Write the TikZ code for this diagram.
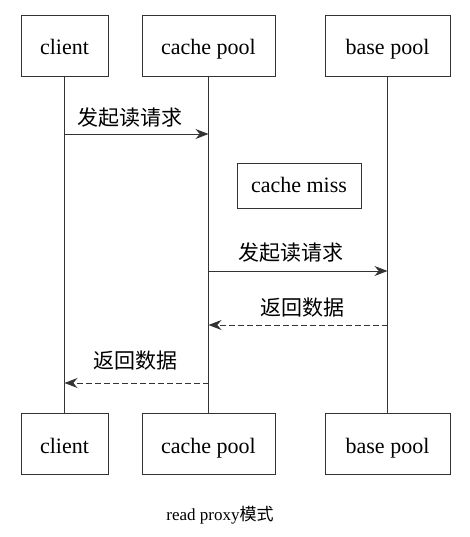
\documentclass[tikz,border=0pt]{standalone}
\usepackage{fontspec}
\setmainfont{Liberation Serif}
\newfontfamily\cjk{Noto Sans CJK SC}
\usetikzlibrary{arrows.meta}

\begin{document}
\begin{tikzpicture}[x=1pt,y=-1pt,
  >={Stealth[length=13pt,width=10pt]},
  ligne/.style={line width=0.9pt, draw=black!80},
  boite/.style={ligne, inner sep=0pt, minimum height=61pt,
    text height=21pt, text depth=2pt,
    font=\fontsize{22}{26}\selectfont},
  texte/.style={inner sep=0pt, font=\fontsize{21}{25}\selectfont\cjk},
  retour/.style={dash pattern=on 6pt off 3pt}]

\useasboundingbox (0,0) rectangle (470,537);

%boites haut
\node [boite, minimum width=87pt] (cl-h) at (64.5,45.5) {client};
\node [boite, minimum width=133pt] (cp-h) at (208.5,45.5) {cache pool};
\node [boite, minimum width=125pt] (bp-h) at (387.5,45.5) {base pool};

%boites bas
\node [boite, minimum width=87pt] (cl-b) at (64.5,444) {client};
\node [boite, minimum width=133pt] (cp-b) at (208.5,444) {cache pool};
\node [boite, minimum width=125pt] (bp-b) at (387.5,444) {base pool};

%lignes de vie
\draw [ligne] (cl-h.south) -- (cl-b.north);
\draw [ligne] (cp-h.south) -- (cp-b.north);
\draw [ligne] (bp-h.south) -- (bp-b.north);

%cache miss
\node [boite, minimum width=124pt, minimum height=45pt, text height=17pt,
  fill=white] (miss) at (299,185.5) {cache miss};

%messages
\coordinate (m1) at (0,134);
\coordinate (m2) at (0,271);
\coordinate (m3) at (0,325);
\coordinate (m4) at (0,383);

\draw [ligne, ->] (cl-h.south |- m1) -- (cp-h.south |- m1);
\node [texte] (t1) at (130,118) {发起读请求};

\draw [ligne, ->] (cp-h.south |- m2) -- (bp-h.south |- m2);
\node [texte] (t2) at (291,253) {发起读请求};

\draw [ligne, ->, retour] (bp-h.south |- m3) -- (cp-h.south |- m3);
\node [texte] (t3) at (302,308) {返回数据};

\draw [ligne, ->, retour] (cp-h.south |- m4) -- (cl-h.south |- m4);
\node [texte] (t4) at (135,361) {返回数据};

%legende
\node [inner sep=0pt, font=\fontsize{17}{20}\selectfont] (leg) at (220,515) {read proxy{\cjk 模式}};

\end{tikzpicture}
\end{document}
